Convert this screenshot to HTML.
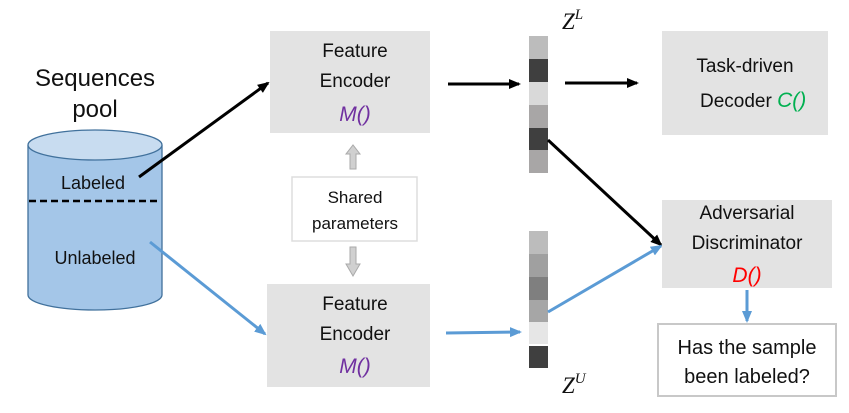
<!DOCTYPE html>
<html><head><meta charset="utf-8"><style>
html,body{margin:0;padding:0;background:#fff;}
svg text{font-family:"Liberation Sans",sans-serif;}
</style></head><body>
<svg width="849" height="408" viewBox="0 0 849 408" xmlns="http://www.w3.org/2000/svg">
<defs>
<marker id="ak" markerWidth="12" markerHeight="12" refX="10" refY="6" orient="auto" markerUnits="userSpaceOnUse"><path d="M0,1 L12,6 L0,11 z" fill="#000"/></marker>
<marker id="ab" markerWidth="12" markerHeight="12" refX="10" refY="6" orient="auto" markerUnits="userSpaceOnUse"><path d="M0,1 L12,6 L0,11 z" fill="#5b9bd5"/></marker>
</defs>
<text x="95" y="86" font-size="24" text-anchor="middle" fill="#111">Sequences</text>
<text x="95" y="117" font-size="24" text-anchor="middle" fill="#111">pool</text>
<path d="M28,145 L28,295 A67,15 0 0 0 162,295 L162,145" fill="#a4c6e8" stroke="#41719c" stroke-width="1.3"/>
<ellipse cx="95" cy="145" rx="67" ry="15" fill="#c8dcf0" stroke="#41719c" stroke-width="1.3"/>
<line x1="29" y1="201" x2="161" y2="201" stroke="#000" stroke-width="2.5" stroke-dasharray="7,4"/>
<text x="93" y="189" font-size="18" text-anchor="middle" fill="#111">Labeled</text>
<text x="95" y="264" font-size="18" text-anchor="middle" fill="#111">Unlabeled</text>
<rect x="270" y="31" width="160" height="102" fill="#e3e3e3"/>
<text x="355" y="57" font-size="19" text-anchor="middle" fill="#111">Feature</text>
<text x="355" y="87" font-size="19" text-anchor="middle" fill="#111">Encoder</text>
<text x="355" y="121" font-size="21" font-style="italic" text-anchor="middle" fill="#7030a0">M()</text>
<rect x="267" y="284" width="163" height="103" fill="#e3e3e3"/>
<text x="355" y="310" font-size="19" text-anchor="middle" fill="#111">Feature</text>
<text x="355" y="340" font-size="19" text-anchor="middle" fill="#111">Encoder</text>
<text x="355" y="373" font-size="21" font-style="italic" text-anchor="middle" fill="#7030a0">M()</text>
<rect x="292" y="177" width="125" height="64" fill="#fff" stroke="#ddd" stroke-width="1.5"/>
<text x="355" y="203" font-size="17" text-anchor="middle" fill="#111">Shared</text>
<text x="355" y="229" font-size="17" text-anchor="middle" fill="#111">parameters</text>
<path d="M350,169 L350,154 L346,154 L353,145 L360,154 L356,154 L356,169 z" fill="#d0d0d0" stroke="#aaa"/>
<path d="M350,247 L350,264 L346,264 L353,276 L360,264 L356,264 L356,247 z" fill="#d0d0d0" stroke="#aaa"/>
<line x1="139" y1="177" x2="268" y2="83" stroke="#000" stroke-width="3" marker-end="url(#ak)"/>
<line x1="150" y1="242" x2="265" y2="334" stroke="#5b9bd5" stroke-width="3" marker-end="url(#ab)"/>
<line x1="448" y1="84" x2="519" y2="84" stroke="#000" stroke-width="3" marker-end="url(#ak)"/>
<line x1="446" y1="333" x2="520" y2="332" stroke="#5b9bd5" stroke-width="3" marker-end="url(#ab)"/>
<rect x="529" y="36" width="19" height="23" fill="#bcbcbc"/>
<rect x="529" y="59" width="19" height="23" fill="#3f3f3f"/>
<rect x="529" y="82" width="19" height="23" fill="#d9d9d9"/>
<rect x="529" y="105" width="19" height="23" fill="#a8a6a6"/>
<rect x="529" y="128" width="19" height="22" fill="#3f3f3f"/>
<rect x="529" y="150" width="19" height="23" fill="#a8a6a6"/>
<rect x="529" y="231" width="19" height="23" fill="#bcbcbc"/>
<rect x="529" y="254" width="19" height="23" fill="#a0a0a0"/>
<rect x="529" y="277" width="19" height="23" fill="#7f7f7f"/>
<rect x="529" y="300" width="19" height="22" fill="#a6a6a6"/>
<rect x="529" y="322" width="19" height="22" fill="#e6e6e6"/>
<rect x="529" y="346" width="19" height="22" fill="#3f3f3f"/>
<text x="562" y="29" font-size="23" font-style="italic" fill="#111" style="font-family:'Liberation Serif',serif">Z<tspan dy="-10" font-size="15">L</tspan></text>
<text x="562" y="393" font-size="23" font-style="italic" fill="#111" style="font-family:'Liberation Serif',serif">Z<tspan dy="-10" font-size="15">U</tspan></text>
<line x1="565" y1="83" x2="637" y2="83" stroke="#000" stroke-width="3" marker-end="url(#ak)"/>
<rect x="662" y="31" width="166" height="104" fill="#e3e3e3"/>
<text x="745" y="72" font-size="19" text-anchor="middle" fill="#111">Task-driven</text>
<text x="700" y="107" font-size="19" fill="#111">Decoder <tspan font-style="italic" font-size="21" fill="#00b050">C()</tspan></text>
<line x1="548" y1="140" x2="661" y2="245" stroke="#000" stroke-width="3" marker-end="url(#ak)"/>
<line x1="548" y1="312" x2="661" y2="246" stroke="#5b9bd5" stroke-width="3" marker-end="url(#ab)"/>
<rect x="662" y="200" width="170" height="88" fill="#e3e3e3"/>
<text x="747" y="219" font-size="19" text-anchor="middle" fill="#111">Adversarial</text>
<text x="747" y="249" font-size="19" text-anchor="middle" fill="#111">Discriminator</text>
<text x="747" y="282" font-size="21" font-style="italic" text-anchor="middle" fill="#ff0000">D()</text>
<line x1="747" y1="290" x2="747" y2="321" stroke="#5b9bd5" stroke-width="3" marker-end="url(#ab)"/>
<rect x="658" y="324" width="178" height="72" fill="#fff" stroke="#c8c8c8" stroke-width="2"/>
<text x="747" y="354" font-size="20" text-anchor="middle" fill="#111">Has the sample</text>
<text x="747" y="383" font-size="20" text-anchor="middle" fill="#111">been labeled?</text>
</svg>
</body></html>
